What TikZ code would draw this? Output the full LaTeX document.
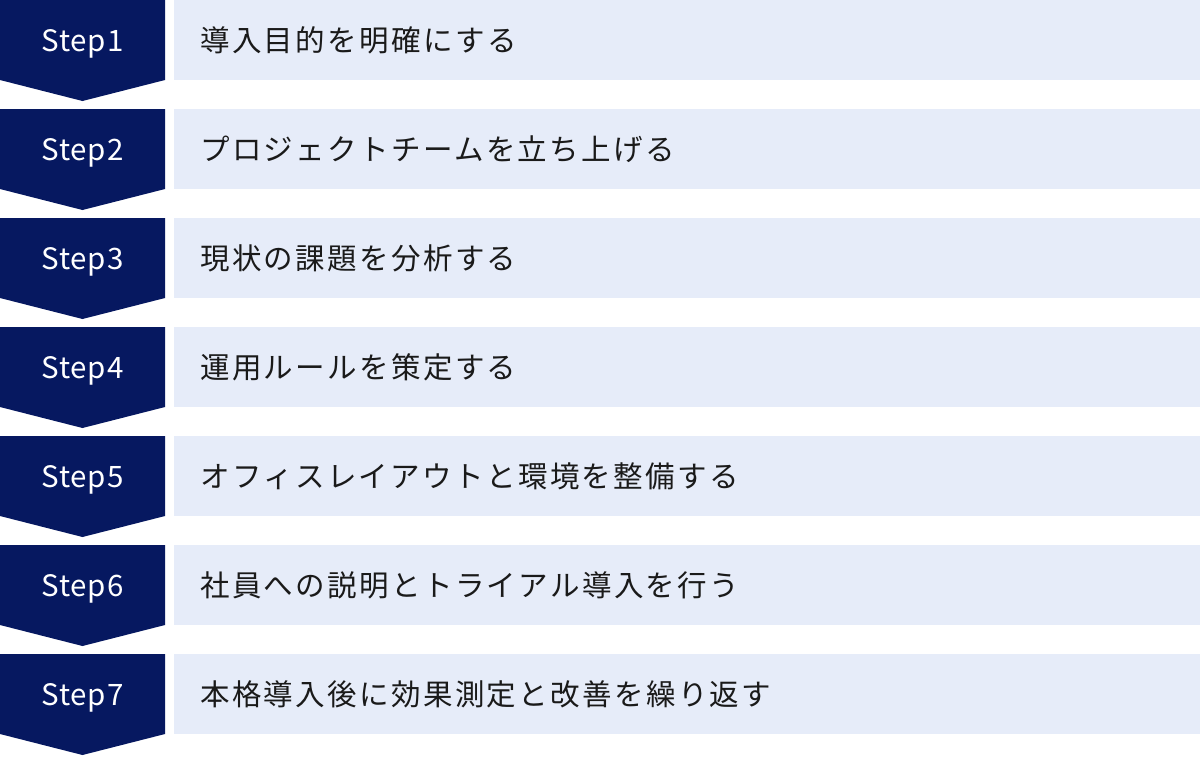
\documentclass[tikz,border=0pt]{standalone}
\usepackage{fontspec}
\setmainfont{Noto Sans CJK JP}
\newfontfamily\stepfont[LetterSpace=3]{Noto Sans CJK JP}
\newfontfamily\bodyfont[LetterSpace=8]{Noto Sans CJK JP}
\definecolor{navy}{HTML}{061860}
\definecolor{paleblue}{HTML}{E6ECF9}
\definecolor{ink}{HTML}{1A1A1A}
\tikzset{
  badge/.style={fill=navy},
  bar/.style={fill=paleblue},
  steplabel/.style={text=white, font=\stepfont\fontsize{29.5}{30}\selectfont, inner sep=0pt, anchor=base},
  bodylabel/.style={text=ink, font=\bodyfont\fontsize{29.5}{30}\selectfont, inner sep=0pt, anchor=west}
}
\begin{document}
\begin{tikzpicture}[x=1pt,y=-1pt]
\useasboundingbox (0,0) rectangle (1200,756);
\fill[white] (0,0) rectangle (1200,756);
\foreach \i/\txt in {1/導入目的を明確にする,2/プロジェクトチームを立ち上げる,3/現状の課題を分析する,4/運用ルールを策定する,5/オフィスレイアウトと環境を整備する,6/社員への説明とトライアル導入を行う,7/本格導入後に効果測定と改善を繰り返す}{
  \pgfmathsetmacro{\t}{109*(\i-1)}
  \fill[badge] (0,\t) -- (165,\t) -- (165,\t+80) -- (82.5,\t+101) -- (0,\t+80) -- cycle;
  \fill[bar] (174,\t) rectangle (1200,\t+80);
  \node[steplabel] (step\i) at (82.5,\t+51.5) {Step\i};
  \node[bodylabel] (text\i) at (200,\t+40) {\txt};
}
\end{tikzpicture}
\end{document}
